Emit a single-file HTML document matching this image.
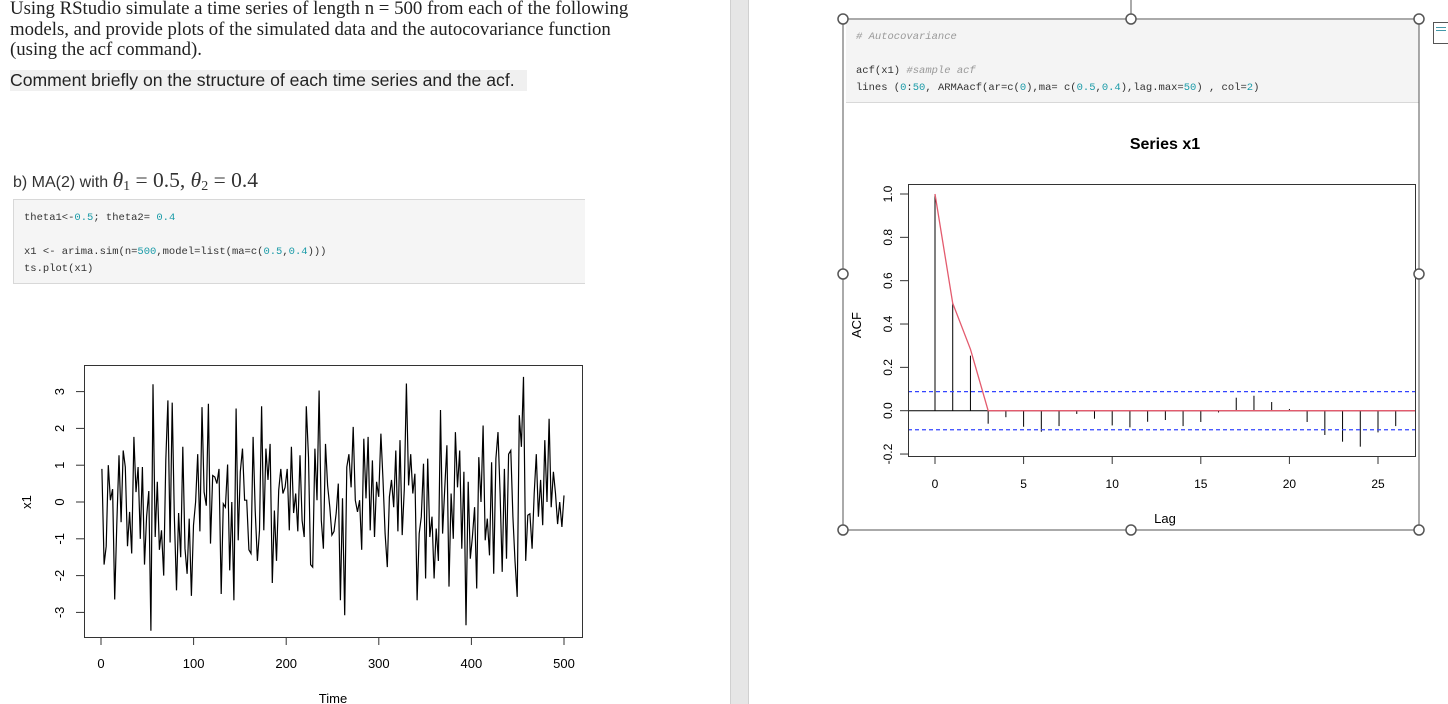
<!DOCTYPE html>
<html><head><meta charset="utf-8"><style>
body{margin:0;width:1448px;height:704px;overflow:hidden;background:#fff;font-family:"Liberation Sans",sans-serif;position:relative}
.abs{position:absolute}
.serif{font-family:"Liberation Serif",serif;font-size:18.8px;color:#222;line-height:20.5px;white-space:nowrap}
.mono{font-family:"Liberation Mono",monospace;font-size:10.5px;color:#333;white-space:pre}
.n{color:#1a9ba8}.c{color:#999;font-style:italic}
</style></head><body>
<div class="abs serif" style="left:10px;top:-1px;">Using RStudio simulate a time series of length n = 500 from each of the following<br>models, and provide plots of the simulated data and the autocovariance function<br>(using the acf command).</div>
<div class="abs" style="left:10px;top:70px;width:517px;height:21px;background:#f0f0f0;font-size:17.6px;line-height:21px;color:#222;white-space:nowrap">Comment briefly on the structure of each time series and the acf.</div>
<div class="abs" style="left:13px;top:168px;font-size:16px;color:#333;white-space:nowrap">b) MA(2) with <span style="font-family:'Liberation Serif',serif;font-size:21.5px"><i>θ</i><span style="font-size:14px;position:relative;top:3px">1</span> = 0.5, <i>θ</i><span style="font-size:14px;position:relative;top:3px">2</span> = 0.4</span></div>
<div class="abs mono" style="left:13px;top:199px;width:572px;height:85px;background:#f5f5f5;border:1px solid #d8d8d8;border-right:none;padding:10px 0 0 10px;box-sizing:border-box;line-height:17px">theta1&lt;-<span class="n">0.5</span>; theta2= <span class="n">0.4</span>

x1 &lt;- arima.sim(n=<span class="n">500</span>,model=list(ma=c(<span class="n">0.5</span>,<span class="n">0.4</span>)))
ts.plot(x1)</div>
<div class="abs" style="left:730px;top:0;width:17px;height:704px;background:#e6e6e6;border-left:1px solid #d0d0d0;border-right:1px solid #d0d0d0"></div>
<div class="abs mono" style="left:846px;top:20px;width:573px;height:83px;background:#f4f4f4;border-bottom:1px solid #d8d8d8;padding:9px 0 0 10px;box-sizing:border-box;line-height:17px"><span class="c"># Autocovariance</span>

acf(x1) <span class="c">#sample acf</span>
lines (<span class="n">0</span>:<span class="n">50</span>, ARMAacf(ar=c(<span class="n">0</span>),ma= c(<span class="n">0.5</span>,<span class="n">0.4</span>),lag.max=<span class="n">50</span>) , col=<span class="n">2</span>)</div>
<div class="abs" style="left:1433px;top:22px;width:15px;height:22px;border:1px solid #555;border-right:none;box-sizing:border-box;background:#fff"><div style="margin:4px 2px;height:2px;border-top:1px solid #49a;border-bottom:1px solid #49a"></div></div>
<svg class="abs" style="left:0;top:0" width="1448" height="704" id="svg" font-family="Liberation Sans, sans-serif">
<g id="sel">
<line x1="1131" y1="0" x2="1131" y2="19" stroke="#555"/>
<rect x="843" y="19" width="576" height="511" fill="none" stroke="#555"/>
</g>
<g id="ts"></g>
<g id="acf"></g>
<g id="handles"></g>
</svg>
<script>
const tsValues=[0.9,-1.7,-1.2,1.0,0.05,0.35,-2.65,-0.6,1.27,-0.55,1.4,0.95,-1.2,-0.27,-1.4,1.77,0.27,0.95,-1.0,0.95,-1.7,-0.4,0.3,-3.5,3.2,-0.95,0.55,-1.3,-0.77,-2.0,1.13,2.76,-1.1,2.7,-0.36,-2.4,-0.3,-1.5,1.5,-1.27,-1.95,-0.45,-2.55,-0.63,0,1.3,-0.8,2.58,0.27,-0.1,2.67,-1.13,0.72,0.68,0.5,0.9,-2.5,-0.05,-0.14,1.02,-1.86,0,-2.67,2.54,-1.04,0.82,1.45,0.05,0.05,-1.3,-1.4,1.77,-0.23,-1.6,-0.77,2.6,-0.77,1.45,0.6,1.58,-2.2,-0.23,-1.6,0.32,0.9,0.23,0.4,0.9,-0.77,1.5,-0.3,0.23,-0.8,1.27,-0.5,-0.95,2.6,1.22,-1.7,-1.77,1.45,0.05,3.03,-0.5,-1.27,1.58,0.45,-0.14,-0.9,
-0.8,-0.3,0.5,-2.67,0.1,-3.08,0.95,1.3,0.4,2.04,0.05,-0.27,0.05,-1.3,1.72,0.1,1.77,-0.77,1.13,-0.95,0.55,0.14,1.86,0.6,-0.86,-1.77,0.14,0.6,-0.14,1.4,-0.8,1.68,-0.9,0.36,3.22,0.45,1.3,0.23,0.77,-2.67,-0.86,-0.4,1.04,-2.08,1.18,-0.95,-0.4,-2.08,-0.72,-1.6,2.5,-0.86,0.4,1.54,-2.3,0.23,-1.0,1.9,0.4,1.4,-1.27,0.82,-3.35,0.55,-1.54,-0.95,-0.14,-2.35,1.22,0,2.08,-1.04,-0.45,-1.45,1.08,-1.95,1.18,1.9,0.23,-1.9,0.9,-1.54,1.3,1.4,-0.4,-1.6,-2.58,2.36,1.5,3.4,-1.6,-0.36,-0.32,-1.27,0.23,1.3,-0.4,0.6,-0.63,1.68,0,2.26,-0.14,0.82,0.23,-0.6,0,-0.68,0.18];
const tsXTicks=[0,100,200,300,400,500];
const tsYTicks=[-3,-2,-1,0,1,2,3];
const acfLags=[0,1,2,3,4,5,6,7,8,9,10,11,12,13,14,15,16,17,18,19,20,21,22,23,24,25,26];
const acfValues=[1,0.495,0.254,-0.06,-0.03,-0.074,-0.097,-0.071,-0.015,-0.037,-0.068,-0.077,-0.051,-0.043,-0.071,-0.052,-0.008,0.06,0.069,0.04,0.008,-0.052,-0.112,-0.143,-0.166,-0.10,-0.071];
const theoLags=[0,1,2,3,50];
const theoValues=[1,0.496,0.284,0,0];
const ciBound=[0.088];
const acfXTicks=[0,5,10,15,20,25];
const acfYTicks=[-0.2,0,0.2,0.4,0.6,0.8,1.0];

const NS='http://www.w3.org/2000/svg';
function mk(p,t,a){const e=document.createElementNS(NS,t);for(const k in a)e.setAttribute(k,a[k]);p.appendChild(e);return e;}
function txt(p,x,y,s,rot,size,extra){const e=mk(p,'text',Object.assign({x:x,y:y,'font-size':size||13,'text-anchor':'middle',fill:'#000'},extra||{}));if(rot)e.setAttribute('transform','rotate(-90 '+x+' '+y+')');e.textContent=s;return e;}

const ts=document.getElementById('ts');
const tx=t=>101+t*0.926, ty=v=>502-v*36.8;
let b=mk(ts,'rect',{x:84.5,y:365.5,width:498,height:272,fill:'none',stroke:'#333'});


const step=499/(tsValues.length-1);
let d=tsValues.map((v,i)=>(i?'L':'M')+tx(1+i*step).toFixed(1)+','+ty(v).toFixed(1)).join('');
let ln=mk(ts,'path',{d:d,fill:'none',stroke:'#000','stroke-width':1.2,'stroke-linejoin':'miter'});


tsXTicks.forEach(t=>{mk(ts,'line',{x1:tx(t),x2:tx(t),y1:637,y2:645,stroke:'#333'});const e=txt(ts,tx(t),668,String(t));});
tsYTicks.forEach(v=>{mk(ts,'line',{x1:76,x2:84,y1:ty(v),y2:ty(v),stroke:'#333'});const e=txt(ts,64,ty(v),String(v),true);});
let e1=txt(ts,333,703,'Time');
let e2=txt(ts,31,502,'x1',true);

const ac=document.getElementById('acf');
const ax=l=>935+l*17.72, ay=v=>410.7-v*216.7;
const cp=mk(ac,'clipPath',{id:'cp'});mk(cp,'rect',{x:908,y:184,width:507,height:272});
let t1=txt(ac,1165,149,'Series  x1',false,16,{'font-weight':'bold'});
acfLags.forEach((l,i)=>{const e=mk(ac,'line',{x1:ax(l),x2:ax(l),y1:ay(0),y2:ay(acfValues[i]),stroke:'#000','stroke-width':1});});
mk(ac,'line',{x1:908,x2:1415,y1:ay(0),y2:ay(0),stroke:'#000'});
[ciBound[0],-ciBound[0]].forEach(v=>{const e=mk(ac,'line',{x1:908,x2:1415,y1:ay(v),y2:ay(v),stroke:'#3344ff','stroke-dasharray':'4,3','stroke-width':1.3});});
let th=mk(ac,'path',{d:theoLags.map((l,i)=>(i?'L':'M')+ax(l)+','+ay(theoValues[i])).join(''),fill:'none',stroke:'#e35b6e','stroke-width':1.3,'clip-path':'url(#cp)'});


mk(ac,'rect',{x:908.5,y:184.5,width:507,height:272,fill:'none',stroke:'#333'});
acfXTicks.forEach(l=>{mk(ac,'line',{x1:ax(l),x2:ax(l),y1:456,y2:464,stroke:'#333'});const e=txt(ac,ax(l),488,String(l),false,12);});
acfYTicks.forEach(v=>{mk(ac,'line',{x1:900,x2:908,y1:ay(v),y2:ay(v),stroke:'#333'});const e=txt(ac,892,ay(v),v.toFixed(1),true,12);});
let e3=txt(ac,1165,523,'Lag');
let e4=txt(ac,861,325,'ACF',true);

const hg=document.getElementById('handles');
[[843,19],[1131,19],[1419,19],[843,274],[1419,274],[843,530],[1131,530],[1419,530]].forEach(p=>{const c=mk(hg,'circle',{cx:p[0],cy:p[1],r:5,fill:'#fff',stroke:'#555','stroke-width':1.5});});
</script>
</body></html>
